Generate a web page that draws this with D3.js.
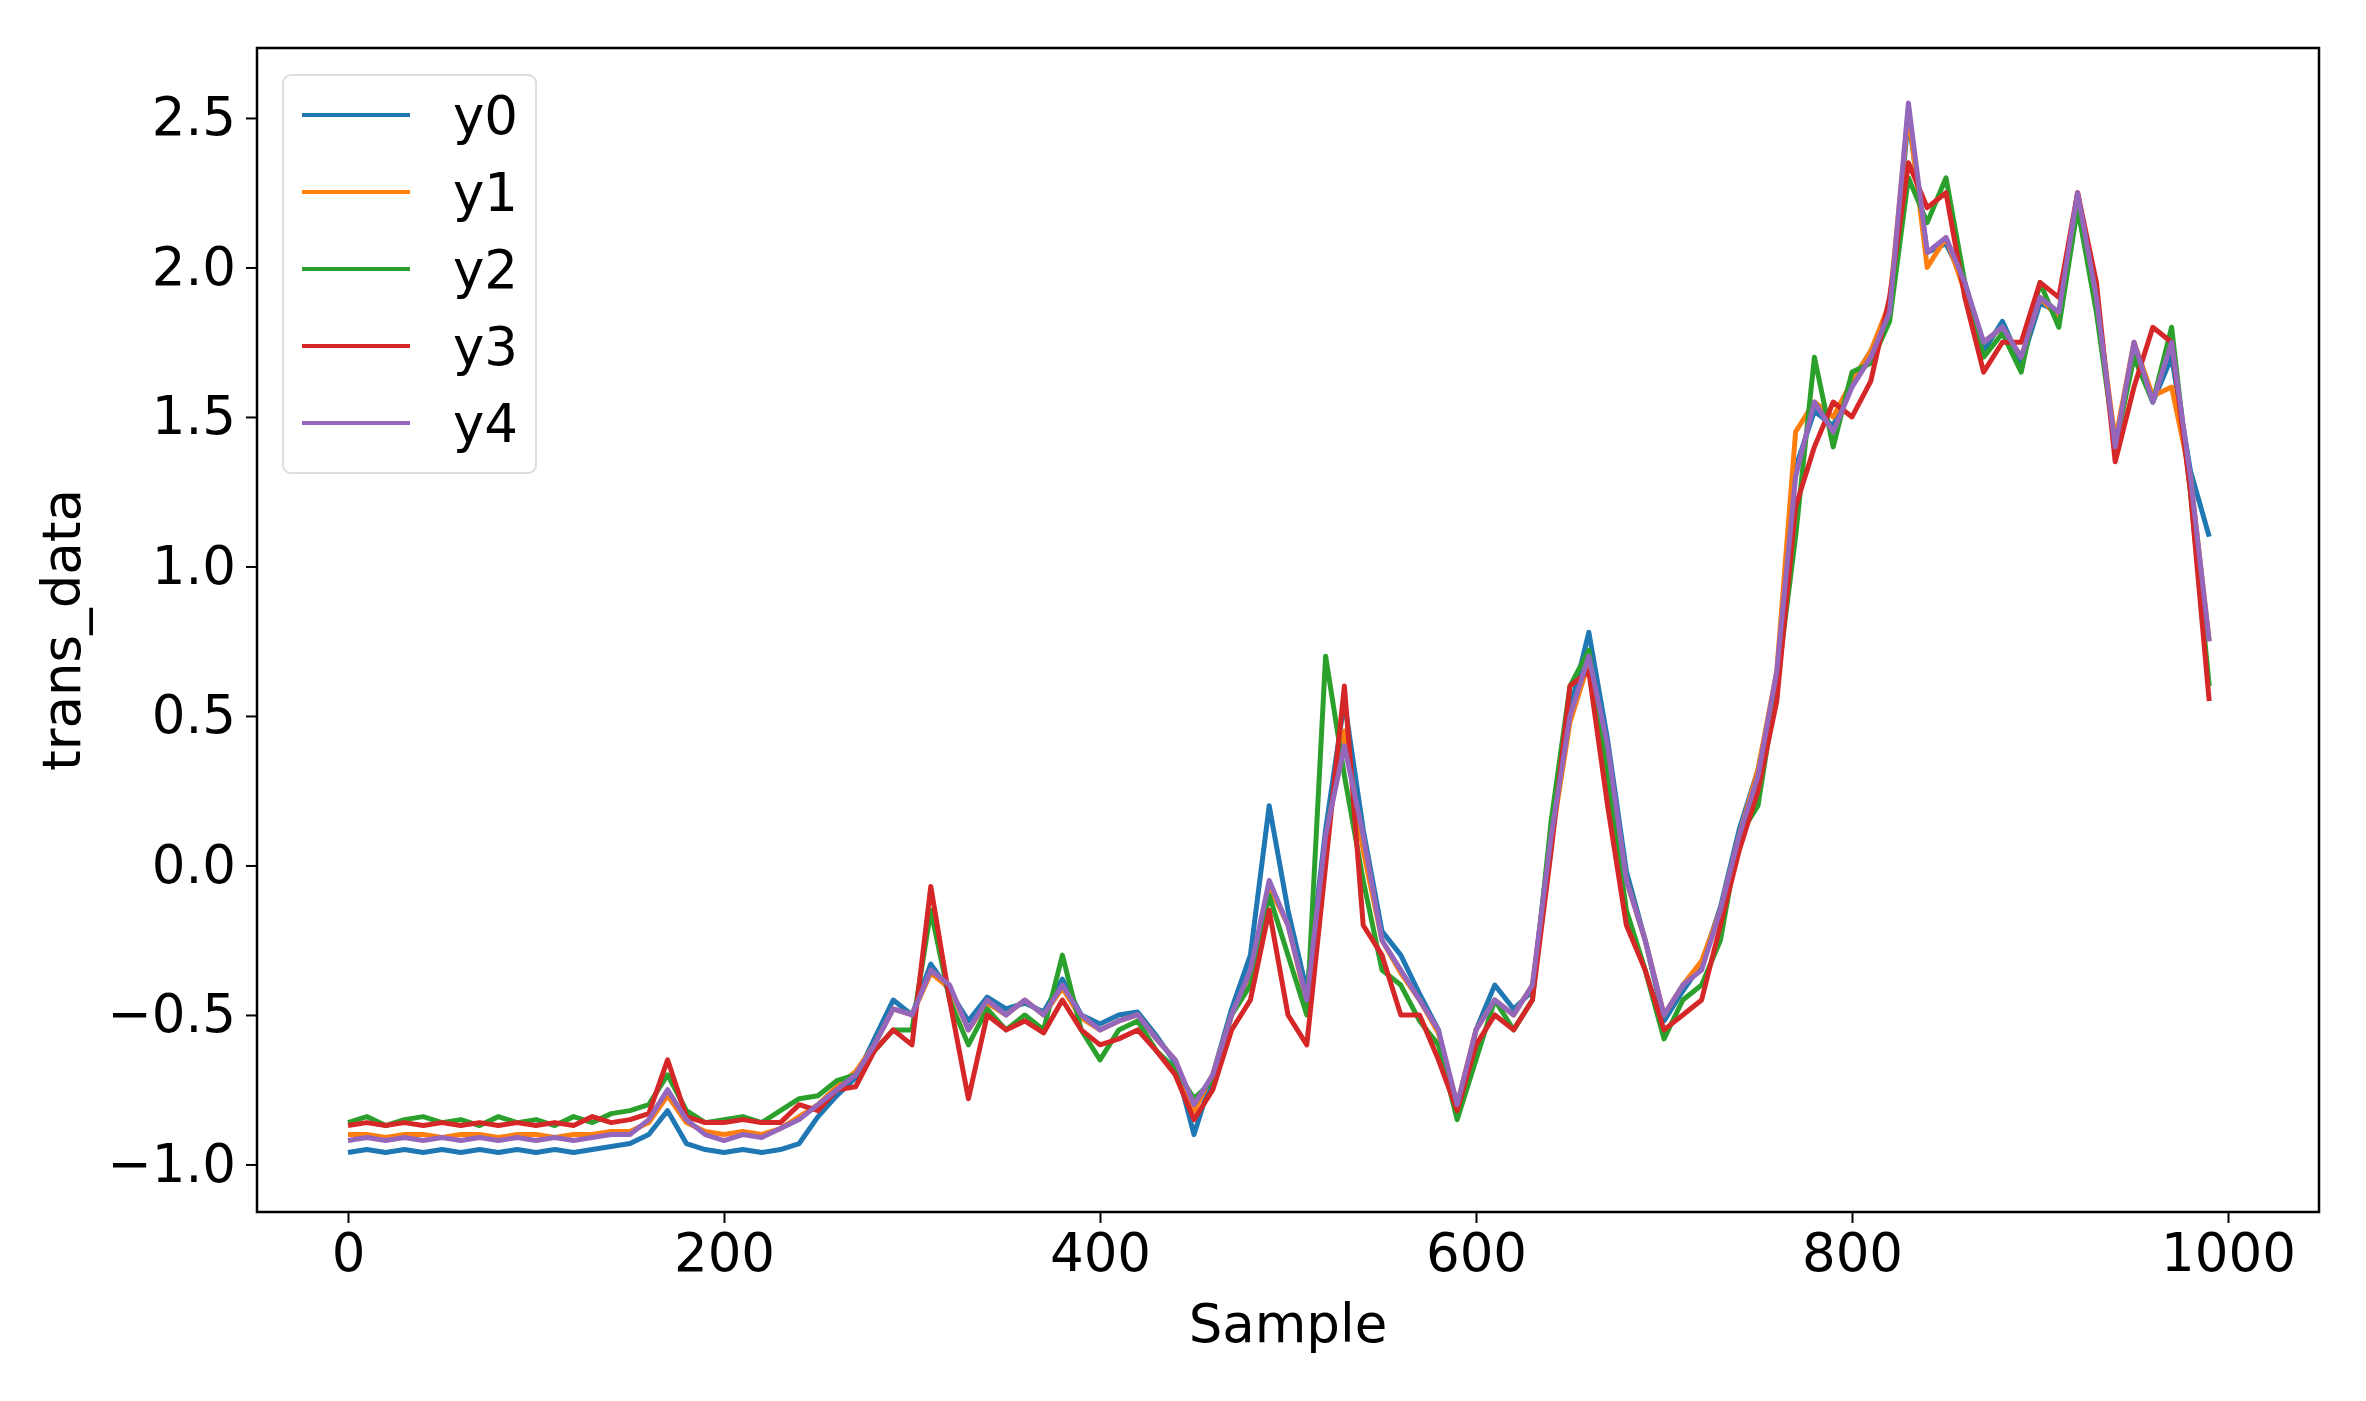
<!DOCTYPE html>
<html>
<head>
<meta charset="utf-8">
<script src="https://cdn.jsdelivr.net/npm/d3@7"></script>
<style>
  body { margin: 0; background: #fff; }
  text { font-family: "DejaVu Sans", sans-serif; fill: #000; }
</style>
</head>
<body>
<svg id="chart" width="2366" height="1401"></svg>
<script>
// samples every 10 steps, 0..990
var seriesNames = ["y0", "y1", "y2", "y3", "y4"];
var colors = ["#1f77b4", "#ff7f0e", "#2ca02c", "#d62728", "#9467bd"];
var xTicks = [0, 200, 400, 600, 800, 1000];
var yTicks = [-1.0, -0.5, 0.0, 0.5, 1.0, 1.5, 2.0, 2.5];

var y0 = [-0.96,-0.95,-0.96,-0.95,-0.96,-0.95,-0.96,-0.95,-0.96,-0.95,
  -0.96,-0.95,-0.96,-0.95,-0.94,-0.93,-0.90,-0.82,-0.93,-0.95,
  -0.96,-0.95,-0.96,-0.95,-0.93,-0.84,-0.77,-0.71,-0.58,-0.45,
  -0.50,-0.33,-0.42,-0.52,-0.44,-0.48,-0.46,-0.49,-0.38,-0.50,
  -0.53,-0.50,-0.49,-0.57,-0.66,-0.90,-0.70,-0.48,-0.30,0.20,
  -0.15,-0.42,0.12,0.55,0.12,-0.22,-0.30,-0.43,-0.55,-0.84,
  -0.55,-0.40,-0.48,-0.42,0.12,0.52,0.78,0.42,-0.02,-0.25,
  -0.52,-0.42,-0.33,-0.14,0.12,0.32,0.62,1.33,1.52,1.47,
  1.62,1.72,1.85,2.50,2.05,2.08,1.95,1.72,1.82,1.68,
  1.88,1.85,2.20,1.88,1.40,1.72,1.55,1.70,1.32,1.10];
var y1 = [-0.90,-0.90,-0.91,-0.90,-0.90,-0.91,-0.90,-0.90,-0.91,-0.90,
  -0.90,-0.91,-0.90,-0.90,-0.89,-0.89,-0.86,-0.77,-0.86,-0.89,
  -0.90,-0.89,-0.90,-0.88,-0.84,-0.80,-0.74,-0.69,-0.60,-0.48,
  -0.50,-0.36,-0.41,-0.55,-0.46,-0.50,-0.45,-0.50,-0.41,-0.51,
  -0.55,-0.52,-0.50,-0.58,-0.65,-0.82,-0.70,-0.50,-0.36,-0.07,
  -0.20,-0.46,0.08,0.45,0.05,-0.25,-0.36,-0.45,-0.56,-0.80,
  -0.55,-0.45,-0.50,-0.40,0.08,0.48,0.68,0.35,-0.05,-0.25,
  -0.50,-0.40,-0.32,-0.15,0.10,0.32,0.65,1.45,1.55,1.50,
  1.62,1.72,1.88,2.52,2.00,2.10,1.92,1.75,1.80,1.70,
  1.90,1.83,2.25,1.90,1.42,1.75,1.57,1.60,1.30,0.75];
var y2 = [-0.86,-0.84,-0.87,-0.85,-0.84,-0.86,-0.85,-0.87,-0.84,-0.86,
  -0.85,-0.87,-0.84,-0.86,-0.83,-0.82,-0.80,-0.70,-0.82,-0.86,
  -0.85,-0.84,-0.86,-0.82,-0.78,-0.77,-0.72,-0.70,-0.62,-0.55,
  -0.55,-0.15,-0.45,-0.60,-0.48,-0.55,-0.50,-0.55,-0.30,-0.55,
  -0.65,-0.55,-0.52,-0.62,-0.68,-0.78,-0.72,-0.50,-0.40,-0.10,
  -0.30,-0.50,0.70,0.30,-0.05,-0.35,-0.40,-0.52,-0.60,-0.85,
  -0.65,-0.45,-0.55,-0.45,0.15,0.60,0.72,0.30,-0.15,-0.35,
  -0.58,-0.45,-0.40,-0.25,0.10,0.20,0.60,1.10,1.70,1.40,
  1.65,1.68,1.82,2.30,2.15,2.30,1.95,1.70,1.78,1.65,
  1.95,1.80,2.20,1.85,1.40,1.70,1.55,1.80,1.25,0.60];
var y3 = [-0.87,-0.86,-0.87,-0.86,-0.87,-0.86,-0.87,-0.86,-0.87,-0.86,
  -0.87,-0.86,-0.87,-0.84,-0.86,-0.85,-0.83,-0.65,-0.84,-0.86,
  -0.86,-0.85,-0.86,-0.86,-0.80,-0.82,-0.75,-0.74,-0.62,-0.55,
  -0.60,-0.07,-0.45,-0.78,-0.50,-0.55,-0.52,-0.56,-0.45,-0.55,
  -0.60,-0.58,-0.55,-0.62,-0.70,-0.85,-0.75,-0.55,-0.45,-0.15,
  -0.50,-0.60,0.00,0.60,-0.20,-0.30,-0.50,-0.50,-0.65,-0.82,
  -0.60,-0.50,-0.55,-0.45,0.05,0.60,0.65,0.20,-0.20,-0.35,
  -0.55,-0.50,-0.45,-0.20,0.05,0.25,0.55,1.20,1.40,1.55,
  1.50,1.62,1.90,2.35,2.20,2.25,1.90,1.65,1.75,1.75,
  1.95,1.90,2.25,1.95,1.35,1.60,1.80,1.75,1.25,0.55];
var y4 = [-0.92,-0.91,-0.92,-0.91,-0.92,-0.91,-0.92,-0.91,-0.92,-0.91,
  -0.92,-0.91,-0.92,-0.91,-0.90,-0.90,-0.85,-0.75,-0.85,-0.90,
  -0.92,-0.90,-0.91,-0.88,-0.85,-0.80,-0.75,-0.70,-0.60,-0.48,
  -0.50,-0.35,-0.40,-0.55,-0.45,-0.50,-0.45,-0.50,-0.40,-0.50,
  -0.55,-0.52,-0.50,-0.58,-0.65,-0.80,-0.70,-0.50,-0.35,-0.05,
  -0.20,-0.45,0.10,0.40,0.10,-0.25,-0.35,-0.45,-0.55,-0.80,
  -0.55,-0.45,-0.50,-0.40,0.10,0.50,0.70,0.40,-0.05,-0.25,
  -0.50,-0.40,-0.35,-0.15,0.10,0.30,0.65,1.30,1.55,1.45,
  1.60,1.70,1.85,2.55,2.05,2.10,1.95,1.75,1.80,1.70,
  1.90,1.85,2.25,1.90,1.40,1.75,1.55,1.75,1.30,0.75];
var allSeries = [y0, y1, y2, y3, y4];

var svg = d3.select("#chart");
var mLeft = 257, mRight = 2319, mTop = 48, mBottom = 1212;

var x = d3.scaleLinear().domain([-48.4, 1048.4]).range([mLeft, mRight]);
var y = d3.scaleLinear().domain([-1.159, 2.734]).range([mBottom, mTop]);

var fmtY = (d) => d3.format(".1f")(d).replace("-", "\u2212");

var line = d3.line()
  .x((d, i) => x(i * 10))
  .y((d) => y(d));

var plot = svg.append("g");
plot.append("clipPath").attr("id", "clip")
  .append("rect").attr("x", mLeft).attr("y", mTop)
  .attr("width", mRight - mLeft).attr("height", mBottom - mTop);

plot.selectAll("path.series")
  .data(allSeries)
  .enter()
  .append("path")
  .attr("class", "series")
  .attr("clip-path", "url(#clip)")
  .attr("d", (d) => line(d))
  .attr("fill", "none")
  .attr("stroke", (d, i) => colors[i])
  .attr("stroke-width", 5)
  .attr("stroke-linejoin", "round");

// axes
var xAxis = svg.append("g")
  .attr("transform", "translate(0," + mBottom + ")")
  .call(d3.axisBottom(x).tickValues(xTicks).tickFormat(d3.format("d")).tickSize(11).tickPadding(10));
var yAxis = svg.append("g")
  .attr("transform", "translate(" + mLeft + ",0)")
  .call(d3.axisLeft(y).tickValues(yTicks).tickFormat(fmtY).tickSize(11).tickPadding(10));
[xAxis, yAxis].forEach((a) => {
  a.select(".domain").remove();
  a.selectAll("line").attr("stroke", "#000").attr("stroke-width", 2);
  a.selectAll("text").style("font-size", "53px").style("font-family", "DejaVu Sans");
});

// frame
svg.append("rect")
  .attr("x", mLeft).attr("y", mTop)
  .attr("width", mRight - mLeft).attr("height", mBottom - mTop)
  .attr("fill", "none").attr("stroke", "#000").attr("stroke-width", 2.5);

// axis labels
svg.append("text")
  .attr("x", (mLeft + mRight) / 2).attr("y", 1342)
  .attr("text-anchor", "middle").style("font-size", "53px")
  .text("Sample");
svg.append("text")
  .attr("transform", "translate(80," + (mTop + mBottom) / 2 + ") rotate(-90)")
  .attr("text-anchor", "middle").style("font-size", "53px")
  .text("trans_data");

// legend
var legend = svg.append("g");
legend.append("rect")
  .attr("x", 283).attr("y", 75).attr("width", 253).attr("height", 398)
  .attr("rx", 8).attr("fill", "#fff").attr("fill-opacity", 0.8)
  .attr("stroke", "#ddd").attr("stroke-width", 2);
var items = legend.selectAll("g.item")
  .data(seriesNames)
  .enter()
  .append("g")
  .attr("class", "item")
  .attr("transform", (d, i) => "translate(0," + (115 + i * 77) + ")");
items.append("line")
  .attr("x1", 302).attr("x2", 410)
  .attr("stroke", (d, i) => colors[i]).attr("stroke-width", 4);
items.append("text")
  .attr("x", 453).attr("dy", "0.35em")
  .style("font-size", "53px")
  .text((d) => d);
</script>
</body>
</html>
